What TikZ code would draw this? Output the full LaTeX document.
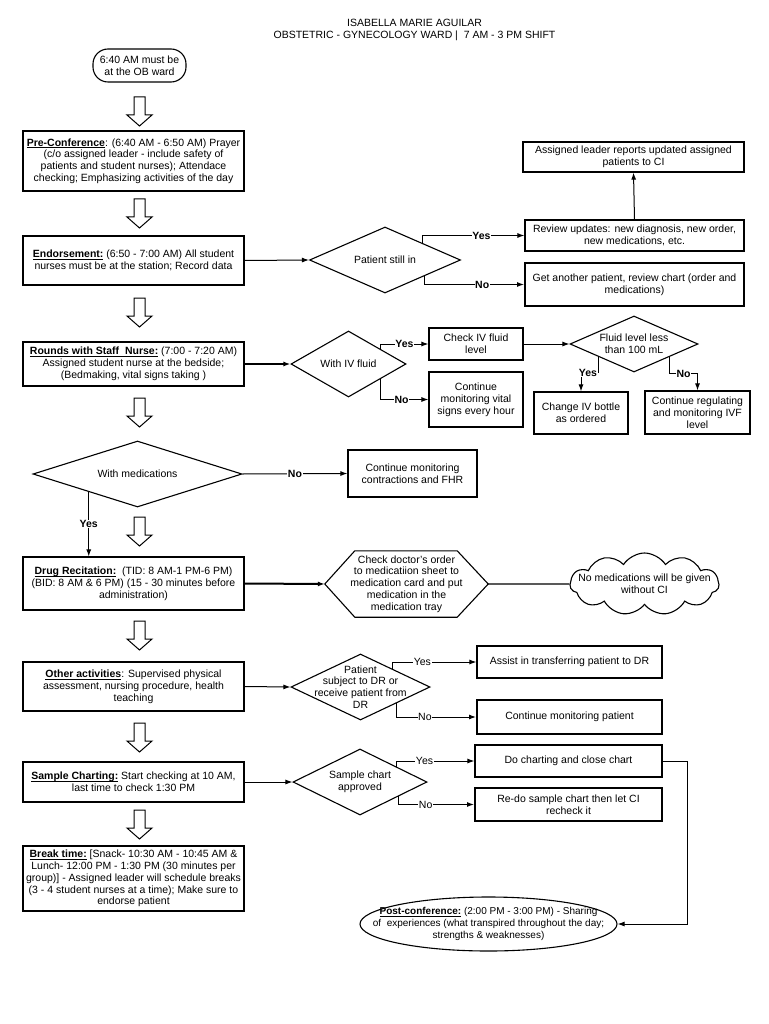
\documentclass[tikz,border=0pt]{standalone}
\usepackage{fontspec}
\setmainfont{Liberation Sans}
\usetikzlibrary{shapes.geometric,shapes.symbols,arrows.meta,calc}
\newcommand{\bu}[1]{\underline{\smash{\textbf{#1}}}}
\begin{document}
\begin{tikzpicture}[x=1pt,y=-1pt,
  every node/.style={font=\fontsize{10.5}{11.8}\selectfont},
  box/.style={draw=black, line width=1.2pt, rectangle, align=center, inner sep=1pt},
  thickbox/.style={box, line width=2pt},
  dia/.style={draw=black, diamond, line width=1.1pt, inner sep=0pt},
  conn/.style={draw=black, line width=1pt, -{Latex[length=7pt,width=5pt]}},
  thickconn/.style={draw=black, line width=2pt, -{Latex[length=7pt,width=5pt]}},
  lbl/.style={fill=white, inner sep=0.6pt, font=\fontsize{10.5}{11.8}\selectfont\bfseries},
  lbln/.style={fill=white, inner sep=0.6pt},
  ctext/.style={align=center, inner sep=0pt},
  blockarrow/.pic={\draw[line width=1pt, fill=white, line join=miter]
     (-5.5,0) -- (5.5,0) -- (5.5,18) -- (12.5,18) -- (0,29) -- (-12.5,18) -- (-5.5,18) -- cycle;}
]
\fill[white] (0,0) rectangle (768,1024);
\useasboundingbox (0,0) rectangle (768,1024);

% title
\node[align=center] (title) at (414.5,30) {ISABELLA MARIE AGUILAR\\OBSTETRIC - GYNECOLOGY WARD \textbar{}\ \ 7 AM - 3 PM SHIFT};

% start
\node[draw=black, line width=1.1pt, rectangle, rounded corners=15pt, minimum width=93pt, minimum height=33pt, align=center, inner sep=0pt] (start) at (139.5,65.5) {6:40 AM must be\\at the OB ward};

% left column boxes
\node[box, minimum width=221pt, minimum height=60pt] (pre) at (133.5,161) {\bu{Pre-Conference}: (6:40 AM - 6:50 AM) Prayer\\(c/o assigned leader - include safety of\\patients and student nurses); Attendace\\checking; Emphasizing activities of the day};
\node[box, minimum width=221pt, minimum height=49pt] (endo) at (133.5,260.5) {\bu{Endorsement:} (6:50 - 7:00 AM) All student\\nurses must be at the station; Record data};
\node[box, minimum width=221pt, minimum height=44pt] (rounds) at (133.5,364) {\bu{Rounds with Staff\ \ Nurse:} (7:00 - 7:20 AM)\\Assigned student nurse at the bedside;\\(Bedmaking, vital signs taking )};
\node[box, minimum width=221pt, minimum height=53pt] (drug) at (133.5,583.5) {\bu{Drug Recitation:}\ \ (TID: 8 AM-1 PM-6 PM)\\(BID: 8 AM \& 6 PM) (15 - 30 minutes before\\administration)};
\node[box, minimum width=221pt, minimum height=49pt] (other) at (133.5,686.5) {\bu{Other activities}: Supervised physical\\assessment, nursing procedure, health\\teaching};
\node[box, minimum width=221pt, minimum height=40pt] (sample) at (133.5,782) {\bu{Sample Charting:} Start checking at 10 AM,\\last time to check 1:30 PM};
\node[box, minimum width=221pt, minimum height=65pt] (brk) at (133.5,878.5) {\bu{Break time:} [Snack- 10:30 AM - 10:45 AM \&\\Lunch- 12:00 PM - 1:30 PM (30 minutes per\\group)] - Assigned leader will schedule breaks\\(3 - 4 student nurses at a time); Make sure to\\endorse patient};

% block arrows
\foreach \yy in {97,199,298,398,517,621,723,810}{
  \pic at (139.5,\yy) {blockarrow};
}

% endorsement branch
\node[dia, minimum width=151pt, minimum height=66pt, label={[ctext]center:Patient still in}] (d1) at (385,260) {};
\node[box, minimum width=221pt, minimum height=30pt] (leader) at (633.5,157) {Assigned leader reports updated assigned\\patients to CI};
\node[box, minimum width=219pt, minimum height=31pt] (rev) at (634.5,235.5) {Review updates: new diagnosis, new order,\\new medications, etc.};
\node[thickbox, minimum width=219pt, minimum height=43pt] (get) at (634.5,284.5) {Get another patient, review chart (order and\\medications)};
\draw[conn] (endo.east) -- (d1.west);
\draw[conn] ($(d1.north)!0.49!(d1.east)$) |- node[lbl, pos=0.79] {Yes} (rev.west);
\draw[conn] ($(d1.south)!0.52!(d1.east)$) |- node[lbl, pos=0.79] {No} (get.west);
\draw[conn] (rev.north) -- (leader.south);

% rounds branch
\node[dia, minimum width=115pt, minimum height=66pt, label={[ctext]center:With IV fluid}] (d2) at (348.5,364) {};
\node[box, minimum width=94pt, minimum height=32pt] (check) at (476,344) {Check IV fluid\\level};
\node[box, minimum width=94pt, minimum height=55pt] (vital) at (476,399.5) {Continue\\monitoring vital\\signs every hour};
\node[dia, minimum width=128pt, minimum height=56pt, label={[ctext]center:{Fluid level less\\than 100 mL}}] (d3) at (634,344) {};
\node[box, minimum width=94pt, minimum height=42pt] (chg) at (581,413) {Change IV bottle\\as ordered};
\node[box, minimum width=105pt, minimum height=43pt] (reg) at (697.5,412.5) {Continue regulating\\and monitoring IVF\\level};
\draw[thickconn] (rounds.east) -- (d2.west);
\draw[conn] ($(d2.north)!0.55!(d2.east)$) |- node[lbl, pos=0.75] {Yes} (check.west);
\draw[conn] ($(d2.south)!0.55!(d2.east)$) |- node[lbl, pos=0.72] {No} (vital.west);
\draw[conn] (check.east) -- (d3.west);
\draw[conn] ($(d3.south)!0.55!(d3.west)$) -- ++(0,16) -| node[lbl, pos=0.3] {Yes} (chg.north);
\draw[conn] ($(d3.south)!0.55!(d3.east)$) -- ++(0,17) -| node[lbl, pos=0.25] {No} (reg.north);

% medications
\node[dia, minimum width=209pt, minimum height=66pt, label={[ctext]center:With medications}] (d4) at (137.5,474) {};
\node[box, minimum width=129pt, minimum height=47pt] (fhr) at (412.5,473.5) {Continue monitoring\\contractions and FHR};
\draw[conn] (d4.east) -- node[lbl] {No} (fhr.west);
\coordinate (d4y) at ($(d4.south)!0.464!(d4.west)$);
\draw[conn] (d4y) -- node[lbl] {Yes} (d4y |- drug.north);

% drug branch
\node[minimum width=163pt, minimum height=66pt, inner sep=0pt] (hex) at (406.5,584) {};
\draw[line width=1.1pt, line join=miter] (hex.west) -- ($(hex.north west)+(30,0)$) -- ($(hex.north east)+(-31,0)$) -- (hex.east) -- ($(hex.south east)+(-31,0)$) -- ($(hex.south west)+(30,0)$) -- cycle;
\node[ctext] (hext) at (hex.center) {Check doctor's order\\to medicatiion sheet to\\medication card and put\\medication in the\\medication tray};
\node[cloud, draw=black, line width=1.1pt, cloud puffs=11, cloud puff arc=115, cloud ignores aspect, minimum width=149pt, minimum height=62pt, inner sep=0pt, label={[ctext]center:{No medications will be given\\without CI}}] (cl) at (644.5,584) {};
\draw[thickconn] (drug.east) -- (hex.west);
\draw[line width=1.2pt] (hex.east) -- (cl.west);

% other activities branch
\node[dia, minimum width=139pt, minimum height=66pt, label={[ctext]center:{Patient\\subject to DR or\\receive patient from\\DR}}] (d5) at (360.5,687) {};
\node[box, minimum width=185pt, minimum height=32pt] (assist) at (569.5,662) {Assist in transferring patient to DR};
\node[thickbox, minimum width=185pt, minimum height=34pt] (contpat) at (569.5,717) {Continue monitoring patient};
\draw[conn] (other.east) -- (d5.west);
\draw[conn] ($(d5.north)!0.45!(d5.east)$) |- node[lbln, pos=0.68] {Yes} (assist.west);
\draw[conn] ($(d5.south)!0.51!(d5.east)$) |- node[lbln, pos=0.68] {No} (contpat.west);

% sample charting branch
\node[dia, minimum width=134pt, minimum height=66pt, label={[ctext]center:{Sample chart\\approved}}] (d6) at (360,782) {};
\node[box, minimum width=187pt, minimum height=32pt] (do) at (568.5,761) {Do charting and close chart};
\node[thickbox, minimum width=187pt, minimum height=33pt] (redo) at (568.5,804.5) {Re-do sample chart then let CI\\recheck it};
\draw[conn] (sample.east) -- (d6.west);
\draw[conn] ($(d6.north)!0.54!(d6.east)$) |- node[lbln, pos=0.68] {Yes} (do.west);
\draw[conn] ($(d6.south)!0.57!(d6.east)$) |- node[lbln, pos=0.68] {No} (redo.west);

% post conference
\node[ellipse, draw=black, line width=1.1pt, minimum width=257pt, minimum height=54pt, inner sep=0pt, label={[ctext, font=\fontsize{10}{11.8}\selectfont]center:{\bu{Post-conference:} (2:00 PM - 3:00 PM) - Sharing\\of\ \ experiences (what transpired throughout the day;\\strengths \& weaknesses)}}] (post) at (488.5,924) {};
\draw[conn] (do.east) -- ++(25,0) |- (post.east);
\end{tikzpicture}
\end{document}
